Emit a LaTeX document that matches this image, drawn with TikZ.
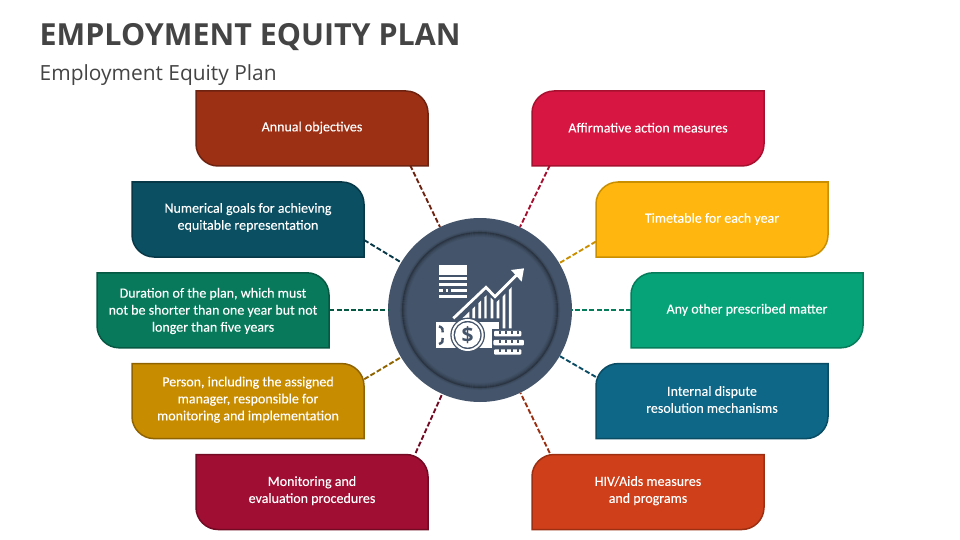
\documentclass[tikz,border=0pt]{standalone}
\usepackage{fontspec}
\setmainfont{Carlito}[FakeBold=0.12]
\newfontfamily\titlefont{Open Sans}
\definecolor{hubblue}{HTML}{44546A}
\definecolor{inkgrey}{HTML}{444444}
\definecolor{fa}{HTML}{9C3015}\definecolor{ba}{HTML}{6E2210}
\definecolor{fb}{HTML}{0B4F63}\definecolor{bb}{HTML}{073848}
\definecolor{fc}{HTML}{087A5B}\definecolor{bc}{HTML}{065843}
\definecolor{fd}{HTML}{C88C00}\definecolor{bd}{HTML}{8F6400}
\definecolor{fe}{HTML}{A00E33}\definecolor{be}{HTML}{720A24}
\definecolor{ff}{HTML}{D81642}\definecolor{bf}{HTML}{A8102F}
\definecolor{fg}{HTML}{FFB60F}\definecolor{bg}{HTML}{C98F00}
\definecolor{fh}{HTML}{07A378}\definecolor{bh}{HTML}{067C5B}
\definecolor{fi}{HTML}{0E6787}\definecolor{bi}{HTML}{0A4C64}
\definecolor{fj}{HTML}{CF3F19}\definecolor{bj}{HTML}{9C2F12}
\tikzset{
  boxshape/.style={line width=1.5pt},
  boxtext/.style={text=white,align=center,minimum width=232pt,minimum height=75pt,inner sep=0pt,
    font=\fontsize{14}{17}\selectfont},
  conn/.style={line width=1.9pt,dash pattern=on 5pt off 2.3pt},
  hubdisc/.style={circle,fill=hubblue,inner sep=0pt}
}
% left boxes: top-right and bottom-left corners rounded; #7 = height of the text centre
\newcommand{\leftbox}[7]{%
  \pgfmathsetmacro{\xL}{#2}\pgfmathsetmacro{\yT}{#3}%
  \pgfmathsetmacro{\xR}{\xL+232}\pgfmathsetmacro{\yB}{\yT+75}%
  \draw[boxshape,fill=#4,draw=#5] (\xL,\yT) -- (\xR-22,\yT)
    .. controls (\xR-10,\yT) and (\xR,\yT+10) .. (\xR,\yT+22) -- (\xR,\yB) -- (\xL+22,\yB)
    .. controls (\xL+10,\yB) and (\xL,\yB-10) .. (\xL,\yB-22) -- cycle;
  \node[boxtext] (#1) at (\xL+116,#7) {#6};}
% right boxes: top-left and bottom-right corners rounded; #7 = height of the text centre
\newcommand{\rightbox}[7]{%
  \pgfmathsetmacro{\xL}{#2}\pgfmathsetmacro{\yT}{#3}%
  \pgfmathsetmacro{\xR}{\xL+232}\pgfmathsetmacro{\yB}{\yT+75}%
  \draw[boxshape,fill=#4,draw=#5] (\xL+22,\yT) -- (\xR,\yT) -- (\xR,\yB-22)
    .. controls (\xR,\yB-10) and (\xR-10,\yB) .. (\xR-22,\yB) -- (\xL,\yB) -- (\xL,\yT+22)
    .. controls (\xL,\yT+10) and (\xL+10,\yT) .. (\xL+22,\yT) -- cycle;
  \node[boxtext] (#1) at (\xL+116,#7) {#6};}
\begin{document}
\begin{tikzpicture}[x=1pt,y=-1pt]
\useasboundingbox (0,0) rectangle (960,540);
\node[anchor=base west,inner sep=0pt,text=inkgrey,font=\titlefont\bfseries\fontsize{30.4}{36}\selectfont] (title) at (39.5,46) {EMPLOYMENT EQUITY PLAN};
\node[anchor=base west,inner sep=0pt,text=inkgrey,font=\titlefont\fontsize{20.9}{24}\selectfont] (subtitle) at (39.5,81) {Employment Equity Plan};

\node[hubdisc,minimum size=184pt] (hub) at (480,310) {};
\foreach \r/\o in {73.5/.04,74.5/.08,75.5/.14,76.5/.24,77.5/.34,78.5/.12,79.5/.05}
  \draw[black,opacity=\o,line width=1.1pt] (hub.center) circle[radius=\r];

\leftbox{a}{196}{91}{fa}{ba}{Annual objectives}{127.7}
\leftbox{b}{132}{182}{fb}{bb}{Numerical goals for achieving\\equitable representation}{217.5}
\leftbox{c}{97}{272.8}{fc}{bc}{Duration of the plan, which must\\not be shorter than one year but not\\longer than five years}{311}
\leftbox{d}{132}{363.6}{fd}{bd}{Person, including the assigned\\manager, responsible for\\monitoring and implementation}{399.7}
\leftbox{e}{196}{454.5}{fe}{be}{Monitoring and\\evaluation procedures}{490.7}
\rightbox{f}{532}{91}{ff}{bf}{Affirmative action measures}{127.7}
\rightbox{g}{596}{182}{fg}{bg}{Timetable for each year}{219}
\rightbox{h}{631}{272.8}{fh}{bh}{Any other prescribed matter}{309.8}
\rightbox{i}{596}{363.6}{fi}{bi}{Internal dispute\\resolution mechanisms}{399.5}
\rightbox{j}{532}{454.5}{fj}{bj}{HIV/Aids measures\\and programs}{490.7}

\draw[conn,ba] (a.-21.9) -- (hub);
\draw[conn,bb] (b.-11) -- (hub);
\draw[conn,bc] (c.east |- hub) -- (hub);
\draw[conn,bd] (d.10) -- (hub);
\draw[conn,be] (e.20.5) -- (hub);
\draw[conn,bf] (f.201.7) -- (hub);
\draw[conn,bg] (g.191.6) -- (hub);
\draw[conn,bh] (h.west |- hub) -- (hub);
\draw[conn,bi] (i.169.8) -- (hub);
\draw[conn,bj] (j.159.5) -- (hub);

% central icon
\begin{scope}[shift={(430,260)},x=0.3333pt,y=-0.3333pt]
  % document
  \fill[white] (27,15) rectangle (110,45);
  \fill[white] (27,51) rectangle (110,60);
  \fill[white] (27,69) rectangle (110,79);
  \fill[white] (27,86) rectangle (40,96);
  \fill[white] (47,86) rectangle (55,96);
  \fill[white] (62,86) rectangle (110,96);
  \fill[white] (27,105) rectangle (110,114);
  % bars
  \fill[white] (97,175) -- (118,155) -- (118,175) -- cycle;
  \fill[white] (127,175) -- (127,147) -- (135,139) -- (135,175) -- cycle;
  \fill[white] (145,175) -- (145,130) -- (153,122) -- (153,175) -- cycle;
  \fill[white] (163,175) -- (163,112) -- (170,106) -- (170,175) -- cycle;
  \fill[white] (182,175) -- (182,113) -- (190,121) -- (190,175) -- cycle;
  \fill[white] (200,175) -- (200,126) -- (208,118) -- (208,175) -- cycle;
  \fill[white] (218,205) -- (218,110) -- (226,101) -- (226,205) -- cycle;
  \fill[white] (237,205) -- (237,90) -- (245,81) -- (245,205) -- cycle;
  % arrow
  \draw[white,line width=2.8pt,line join=miter] (70,175) -- (168,82) -- (195,110) -- (260,45);
  \fill[white] (243,30) -- (282,25) -- (275,65) -- cycle;
  % bill
  \fill[hubblue] (14,183) rectangle (212,269);
  \fill[white] (18,187) rectangle (208,265);
  \draw[hubblue,line width=2.4pt] (27,199) .. controls (37,202) and (40,208) .. (38,217);
  \draw[hubblue,line width=2.4pt] (27,252) .. controls (37,249) and (40,243) .. (38,234);
  \fill[hubblue] (113,225) circle[radius=52];
  \fill[white] (113,225) circle[radius=48];
  \fill[hubblue] (113,225) circle[radius=42];
  \fill[white] (113,225) circle[radius=38];
  \node[inner sep=0pt,text=hubblue,font=\titlefont\bfseries\fontsize{21}{21}\selectfont] (dollar) at (113,225) {\$};
  % coins
  \fill[hubblue] (186,208) rectangle (286,288);
  \fill[white,rounded corners=1pt] (192,213) rectangle (274,229);
  \fill[white,rounded corners=1pt] (190,240) rectangle (282,256);
  \fill[white,rounded corners=1pt] (192,268) rectangle (274,284);
  \foreach \yy in {213,240,268}
    \foreach \xx in {208,226,244,262}
      \fill[hubblue] (\xx,\yy) rectangle (\xx+5,\yy+8);
\end{scope}
\end{tikzpicture}
\end{document}
